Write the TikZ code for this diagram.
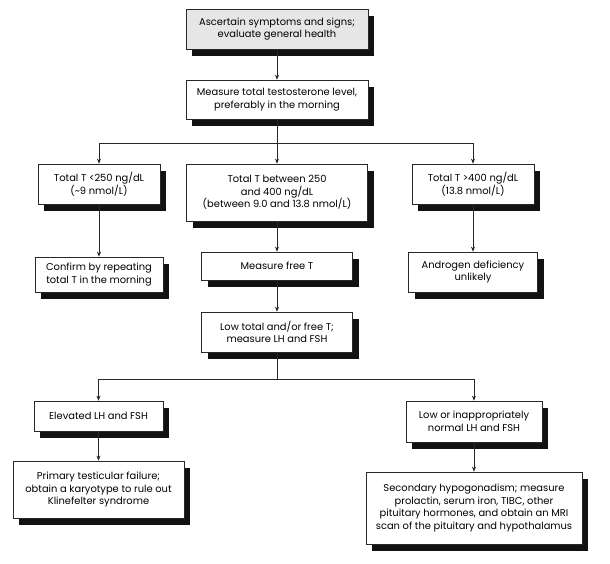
\documentclass[tikz,border=0pt]{standalone}
\usepackage{fontspec}
\setmainfont{Poppins}
\usetikzlibrary{arrows.meta}
\definecolor{boxgray}{RGB}{230,230,230}
\definecolor{lineblack}{RGB}{40,40,40}
\definecolor{shadowblack}{RGB}{18,18,18}
\tikzset{
  stepbox/.style={draw=lineblack, line width=0.7pt, fill=white, align=center,
    font=\fontsize{9.9}{12.6}\selectfont, inner sep=2pt},
  startbox/.style={stepbox, fill=boxgray},
  boxshadow/.style={fill=shadowblack},
  flowline/.style={draw=lineblack, line width=0.6pt},
  flowarrow/.style={flowline, -{Stealth[length=5pt, width=4pt]}}
}
\begin{document}
\begin{tikzpicture}[x=1pt, y=-1pt]
  \useasboundingbox (0,0) rectangle (610,563);
  % shadows, drawn first so the boxes sit on them
  \fill[boxshadow] (192,15.5) rectangle (374,55.5);
  \fill[boxshadow] (192,86.5) rectangle (374,125.5);
  \fill[boxshadow] (44,170.5) rectangle (166,210.5);
  \fill[boxshadow] (192.5,170.5) rectangle (373.5,227.5);
  \fill[boxshadow] (418,170.5) rectangle (540,210.5);
  \fill[boxshadow] (41,263.5) rectangle (169,298.5);
  \fill[boxshadow] (207.5,258.5) rectangle (358.5,286.5);
  \fill[boxshadow] (414.5,258.5) rectangle (543.5,298.5);
  \fill[boxshadow] (207.5,318.5) rectangle (358.5,358.5);
  \fill[boxshadow] (40,407.5) rectangle (169,437.5);
  \fill[boxshadow] (412,407.5) rectangle (548,448.5);
  \fill[boxshadow] (19,467.5) rectangle (190,524.5);
  \fill[boxshadow] (372,478.5) rectangle (588,550.5);

  % top of the chart
  \node[startbox, minimum width=182pt, minimum height=40pt] (ascertain) at (277,29) {Ascertain symptoms and signs;\\evaluate general health};
  \node[stepbox, minimum width=182pt, minimum height=39pt] (totalT) at (277,99.5) {Measure total testosterone level,\\preferably in the morning};
  % first split
  \node[stepbox, minimum width=122pt, minimum height=40pt] (low) at (99,184) {Total T <250 ng/dL\\(\textasciitilde9 nmol/L)};
  \node[stepbox, minimum width=181pt, minimum height=57pt] (mid) at (277,192.5) {Total T between 250\\and 400 ng/dL\\(between 9.0 and 13.8 nmol/L)};
  \node[stepbox, minimum width=122pt, minimum height=40pt] (high) at (473,184) {Total T >400 ng/dL\\(13.8 nmol/L)};
  \node[stepbox, minimum width=128pt, minimum height=35pt] (confirm) at (99,274.5) {Confirm by repeating\\total T in the morning};
  \node[stepbox, minimum width=151pt, minimum height=28pt] (freeT) at (277,266) {Measure free T};
  \node[stepbox, minimum width=129pt, minimum height=40pt] (unlikely) at (473,272) {Androgen deficiency\\unlikely};
  \node[stepbox, minimum width=151pt, minimum height=40pt] (lhfsh) at (277,332) {Low total and/or free T;\\measure LH and FSH};
  % second split
  \node[stepbox, minimum width=129pt, minimum height=30pt] (elevated) at (98.5,416) {Elevated LH and FSH};
  \node[stepbox, minimum width=136pt, minimum height=41pt] (lownormal) at (474,421.5) {Low or inappropriately\\normal LH and FSH};
  \node[stepbox, minimum width=171pt, minimum height=57pt] (primary) at (98.5,489.5) {Primary testicular failure;\\obtain a karyotype to rule out\\Klinefelter syndrome};
  \node[stepbox, minimum width=216pt, minimum height=72pt] (secondary) at (474,508) {Secondary hypogonadism; measure\\prolactin, serum iron, TIBC, other\\pituitary hormones, and obtain an MRI\\scan of the pituitary and hypothalamus};

  \coordinate (split1) at (277,143);
  \coordinate (split2) at (277,379);

  \draw[flowarrow] (ascertain) -- (totalT);
  \draw[flowline] (totalT) -- (split1);
  \draw[flowarrow] (split1) -| (low.north);
  \draw[flowarrow] (split1) -- (mid.north);
  \draw[flowarrow] (split1) -| (high.north);
  \draw[flowarrow] (low) -- (confirm);
  \draw[flowarrow] (mid) -- (freeT);
  \draw[flowarrow] (high) -- (unlikely);
  \draw[flowarrow] (freeT) -- (lhfsh);
  \draw[flowline] (lhfsh) -- (split2);
  \draw[flowarrow] (split2) -| (elevated.north);
  \draw[flowarrow] (split2) -| (lownormal.north);
  \draw[flowarrow] (elevated) -- (primary);
  \draw[flowarrow] (lownormal) -- (secondary);
\end{tikzpicture}
\end{document}
